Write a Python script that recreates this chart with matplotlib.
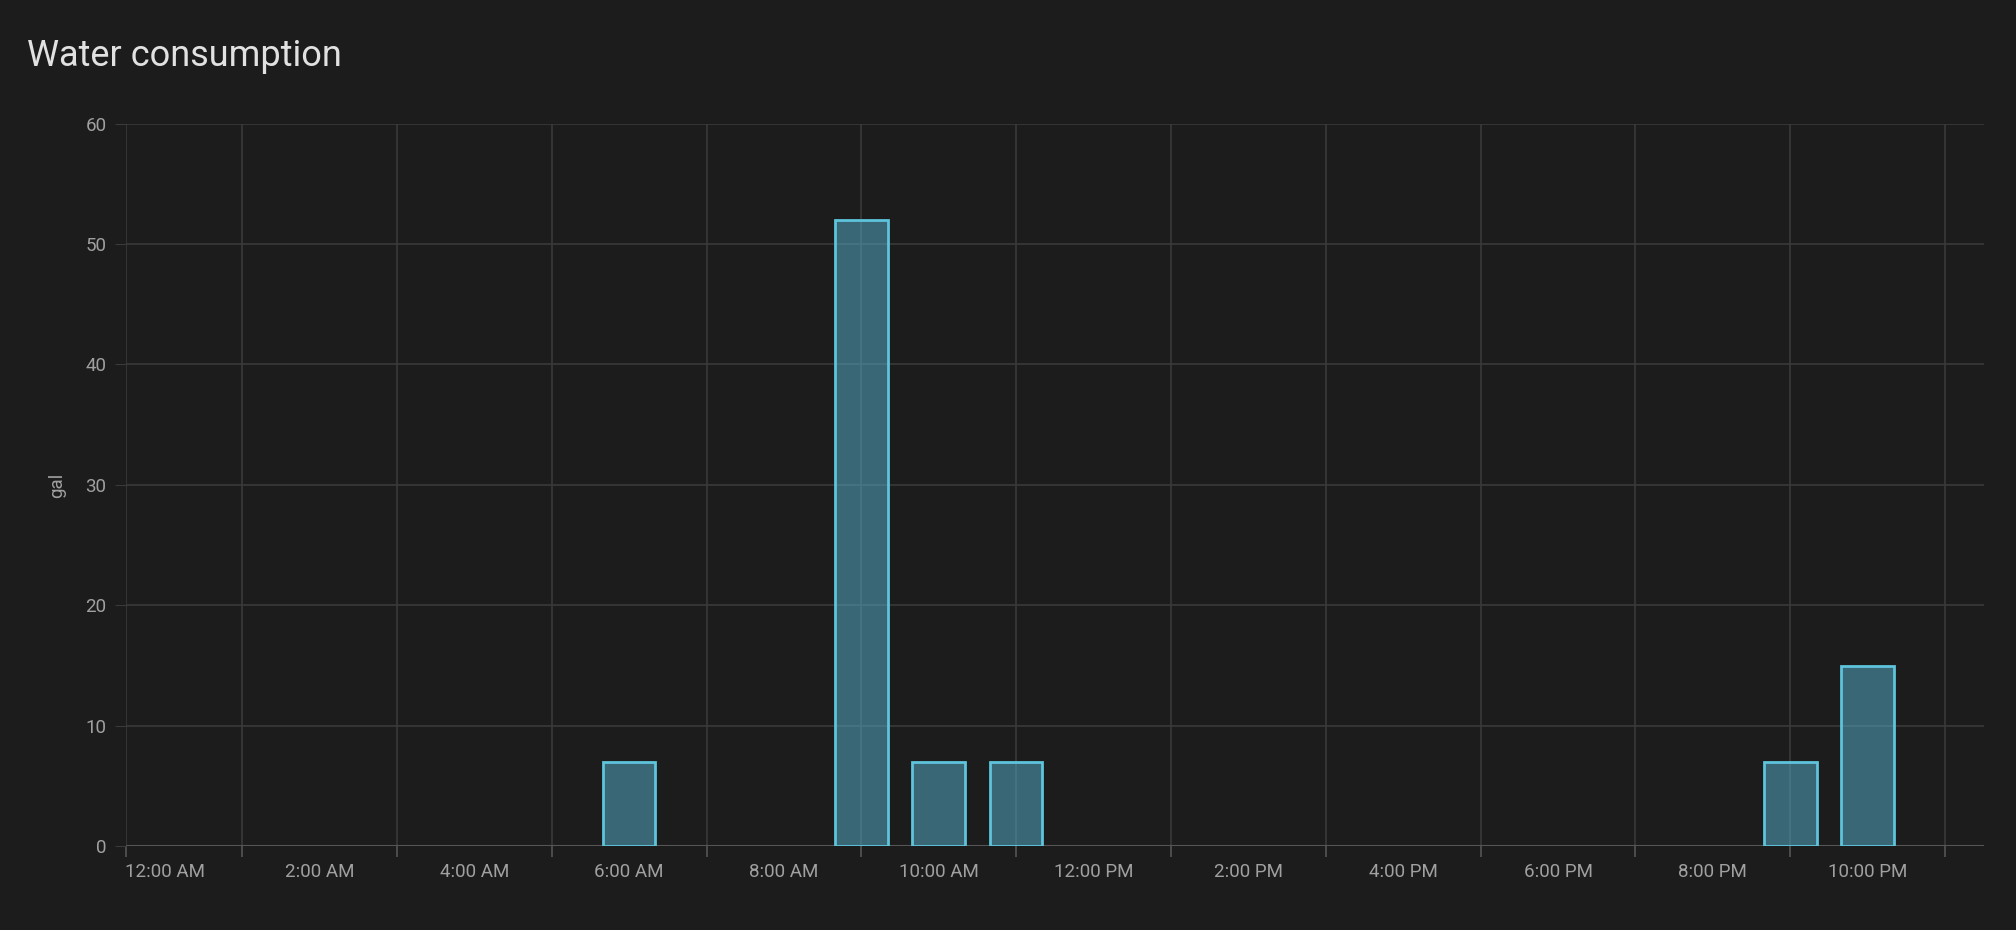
import matplotlib
matplotlib.use("Agg")
import matplotlib.pyplot as plt

hours = [6, 9, 10, 11, 21, 22]
values = [7, 52, 7, 7, 7, 15]
xlabels = ["12:00 AM", "2:00 AM", "4:00 AM", "6:00 AM", "8:00 AM", "10:00 AM",
           "12:00 PM", "2:00 PM", "4:00 PM", "6:00 PM", "8:00 PM", "10:00 PM"]

plt.rcParams['font.family'] = ['Roboto', 'DejaVu Sans']
bg = '#1c1c1c'
fig = plt.figure(figsize=(20.16, 9.3), dpi=100, facecolor=bg)
ax = fig.add_axes([0.0625, 0.0899, 0.9215, 0.7773], facecolor=bg)

ax.bar(hours, values, width=0.68, color=(0.33, 0.65, 0.75, 0.55),
       edgecolor='#5ec4dc', linewidth=2, zorder=3)

ax.set_xlim(-0.5, 23.5)
ax.set_ylim(0, 60)
ax.set_yticks(range(0, 61, 10))
ax.set_xticks(range(0, 24, 2))
ax.set_xticklabels(xlabels)
ax.set_xticks([-0.5] + list(range(1, 24, 2)), minor=True)
ax.grid(False)
for x in [-0.5] + list(range(1, 24, 2)):
    ax.axvline(x, color='#3a3a3a', lw=1.2, zorder=1)
for y in range(10, 61, 10):
    ax.axhline(y, color='#3a3a3a', lw=1.2, zorder=1)
ax.axhline(0, color='#555555', lw=1.5, zorder=2)

for s in ax.spines.values():
    s.set_visible(False)
ax.tick_params(axis='x', which='major', length=0, colors='#a0a0a0', labelsize=13.5, pad=12)
ax.tick_params(axis='x', which='minor', length=8, color='#555555', width=1.2)
ax.tick_params(axis='y', length=8, color='#3a3a3a', colors='#a0a0a0', labelsize=13.5, pad=6)
ax.set_ylabel('gal', color='#a0a0a0', fontsize=13.5, labelpad=14)

fig.text(0.0135, 0.94, 'Water consumption', color='#e1e1e1', fontsize=26, va='center', ha='left')

fig.savefig('out.png', dpi=100, facecolor=bg)
